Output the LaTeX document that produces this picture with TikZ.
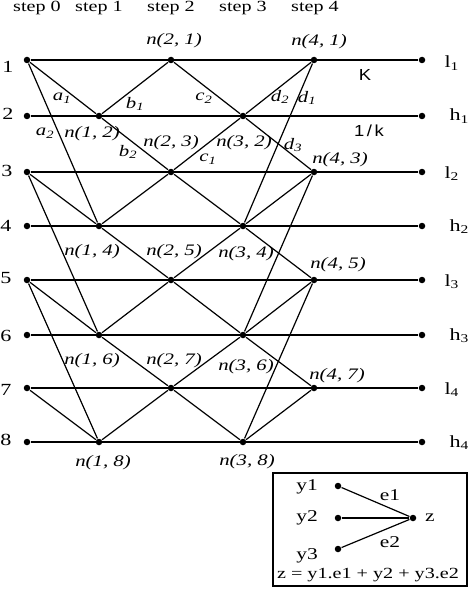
\documentclass[tikz,border=0pt]{standalone}
\usepackage{fontspec}
\setmainfont{Liberation Serif}[FakeStretch=1.3]
\newfontfamily\sansK{Liberation Sans}[FakeStretch=1.15]
\begin{document}
\begin{tikzpicture}[x=1pt,y=-1pt,line width=1.2pt,
  dot/.style={circle,fill=black,inner sep=0pt,minimum size=6.5pt},
  ldot/.style={circle,fill=black,inner sep=0pt,minimum size=6.5pt},
  nlab/.style={font=\fontsize{16}{19}\selectfont\itshape,inner sep=0pt},
  elab/.style={font=\fontsize{16}{19}\selectfont\itshape,inner sep=0pt},
  hdr/.style={font=\fontsize{15.5}{18}\selectfont,inner sep=0pt,anchor=base},
  rlab/.style={font=\fontsize{17}{20}\selectfont,inner sep=0pt},
  olab/.style={font=\fontsize{17}{20}\selectfont,inner sep=0pt,anchor=base west},
  klab/.style={font=\sansK\fontsize{16}{19}\selectfont,inner sep=0pt},
  leg/.style={font=\fontsize{16.5}{19}\selectfont,inner sep=0pt}]
\useasboundingbox (0,0) rectangle (474,591);
% headers
\node[hdr] (h0) at (37,12) {step 0};
\node[hdr] (h1) at (99,12) {step 1};
\node[hdr] (h2) at (171,12) {step 2};
\node[hdr] (h3) at (243,12) {step 3};
\node[hdr] (h4) at (315,12) {step 4};
% row end nodes
\foreach \i/\y in {1/60,2/116,3/172,4/226,5/280,6/335,7/388,8/442}{
  \node[dot] (s\i) at (27,\y) {};
  \node[dot] (e\i) at (422,\y) {};
}
% inner nodes
\node[dot] (n12) at (99,116) {};
\node[dot] (n14) at (99,226) {};
\node[dot] (n16) at (99,335) {};
\node[dot] (n18) at (99,442) {};
\node[dot] (n21) at (171,60) {};
\node[dot] (n23) at (171,172) {};
\node[dot] (n25) at (171,280) {};
\node[dot] (n27) at (171,388) {};
\node[dot] (n32) at (243,116) {};
\node[dot] (n34) at (243,226) {};
\node[dot] (n36) at (243,335) {};
\node[dot] (n38) at (243,442) {};
\node[dot] (n41) at (314,60) {};
\node[dot] (n43) at (314,172) {};
\node[dot] (n45) at (314,280) {};
\node[dot] (n47) at (314,388) {};
% horizontal lines
\foreach \i in {1,...,8}{\draw (s\i) -- (e\i);}
% lattice edges
\foreach \a/\b in {s1/n12,s1/n14,s3/n14,s3/n16,s5/n16,s5/n18,s7/n18,
  n12/n21,n12/n23,n14/n23,n14/n25,n16/n25,n16/n27,n18/n27,
  n21/n32,n23/n32,n23/n34,n25/n34,n25/n36,n27/n36,n27/n38,
  n32/n41,n34/n41,n32/n43,n34/n43,n36/n43,n34/n45,n36/n45,n38/n45,n36/n47,n38/n47}{
  \draw (\a) -- (\b);}
% row labels
\node[rlab] (r1) at (8,67) {1};
\node[rlab] (r2) at (8,114) {2};
\node[rlab] (r3) at (7,171) {3};
\node[rlab] (r4) at (6,226) {4};
\node[rlab] (r5) at (6,278) {5};
\node[rlab] (r6) at (6,336) {6};
\node[rlab] (r7) at (6,390) {7};
\node[rlab] (r8) at (6,440) {8};
% output labels
\node[olab] (o1) at (444,68) {l\textsubscript{1}};
\node[olab] (o2) at (449,121) {h\textsubscript{1}};
\node[olab] (o3) at (444,178) {l\textsubscript{2}};
\node[olab] (o4) at (449,231) {h\textsubscript{2}};
\node[olab] (o5) at (444,286) {l\textsubscript{3}};
\node[olab] (o6) at (449,340) {h\textsubscript{3}};
\node[olab] (o7) at (444,394) {l\textsubscript{4}};
\node[olab] (o8) at (449,447) {h\textsubscript{4}};
% node labels
\node[nlab] (t21) at (174,41) {n(2, 1)};
\node[nlab] (t41) at (319,42) {n(4, 1)};
\node[nlab] (t12) at (92,134) {n(1, 2)};
\node[nlab] (t23) at (171,143) {n(2, 3)};
\node[nlab] (t32) at (244,143) {n(3, 2)};
\node[nlab] (t43) at (340,160) {n(4, 3)};
\node[nlab] (t14) at (92,252) {n(1, 4)};
\node[nlab] (t25) at (174,252) {n(2, 5)};
\node[nlab] (t34) at (246,254) {n(3, 4)};
\node[nlab] (t45) at (338,265) {n(4, 5)};
\node[nlab] (t16) at (92,361) {n(1, 6)};
\node[nlab] (t27) at (174,361) {n(2, 7)};
\node[nlab] (t36) at (246,367) {n(3, 6)};
\node[nlab] (t47) at (337,376) {n(4, 7)};
\node[nlab] (t18) at (103,463) {n(1, 8)};
\node[nlab] (t38) at (247,462) {n(3, 8)};
% edge labels
\node[elab] (la1) at (62,98) {a\textsubscript{1}};
\node[elab] (la2) at (45,133) {a\textsubscript{2}};
\node[elab] (lb1) at (135,104) {b\textsubscript{1}};
\node[elab] (lb2) at (128,152) {b\textsubscript{2}};
\node[elab] (lc2) at (204,98) {c\textsubscript{2}};
\node[elab] (lc1) at (208,159) {c\textsubscript{1}};
\node[elab] (ld2) at (280,97) {d\textsubscript{2}};
\node[elab] (ld1) at (307,98) {d\textsubscript{1}};
\node[elab] (ld3) at (293,145) {d\textsubscript{3}};
\node[klab] (kk) at (365,75) {K};
\node[klab] (ik) at (369,131) {1\,/\,k};
% legend
\node[draw,line width=1.4pt,minimum width=194pt,minimum height=113pt,inner sep=0pt] (box) at (370,529.5) {};
\node[ldot] (y1) at (338,486) {};
\node[ldot] (y2) at (338,518) {};
\node[ldot] (y3) at (338,549) {};
\node[ldot] (z) at (413,518) {};
\draw (y1) -- (z);
\draw (y2) -- (z);
\draw (y3) -- (z);
\node[leg] (ty1) at (307,487) {y1};
\node[leg] (ty2) at (307,518) {y2};
\node[leg] (ty3) at (307,556) {y3};
\node[leg] (tz) at (430,518) {z};
\node[leg] (te1) at (390,495) {e1};
\node[leg] (te2) at (390,542) {e2};
\node[leg,font=\fontsize{15.5}{18}\selectfont] (form) at (368,575) {z = y1.e1 + y2 + y3.e2};
\end{tikzpicture}
\end{document}
